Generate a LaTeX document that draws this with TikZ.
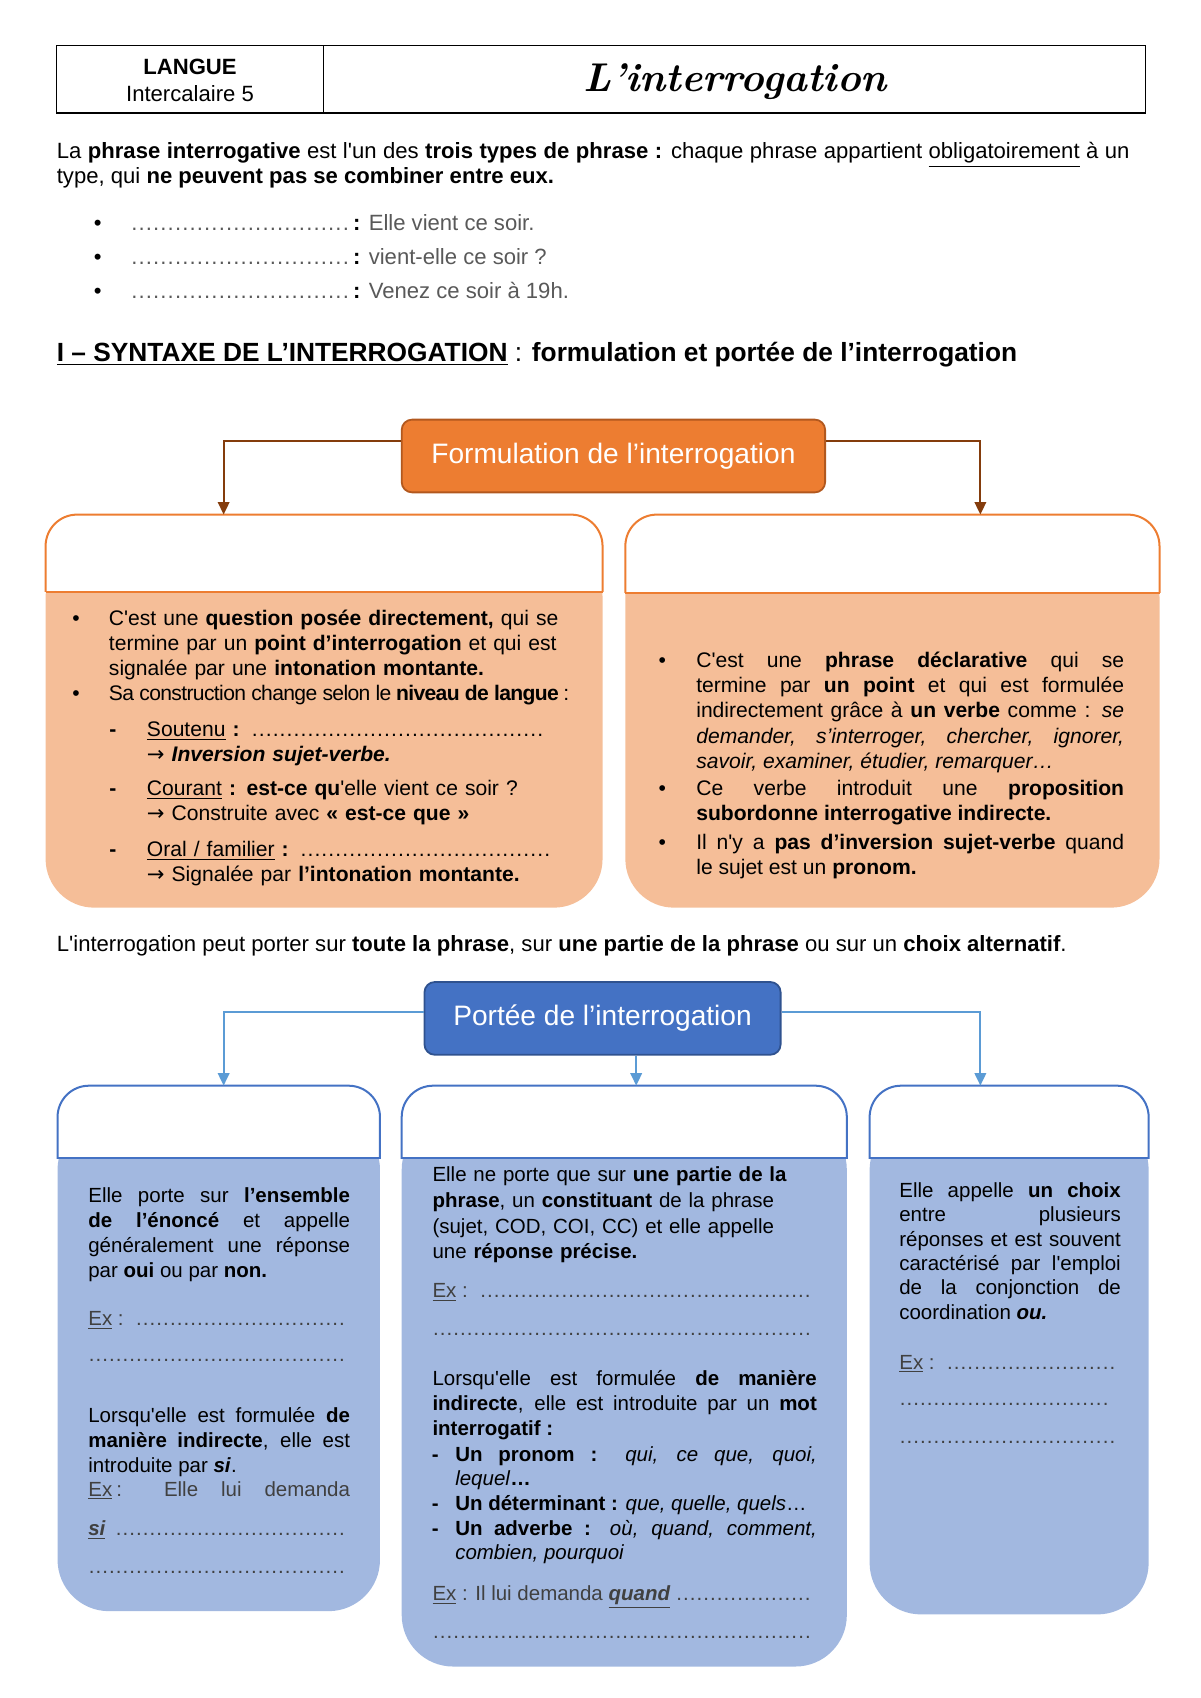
\documentclass[tikz,border=0pt]{standalone}
\usepackage{fontspec}
\setsansfont{Liberation Sans}[Ligatures=TeXOff]
\renewcommand{\familydefault}{\sfdefault}
\newfontfamily\symb{DejaVu Sans}
\usetikzlibrary{arrows.meta,positioning}

\newdimen\pxu
\pxu=0.19mm
\tolerance=9999
\hyphenpenalty=10000

\definecolor{orangevif}{HTML}{ED7D31}
\definecolor{orangebord}{HTML}{B2581E}
\definecolor{brun}{HTML}{843C0C}
\definecolor{peche}{HTML}{F5BE98}
\definecolor{bleuvif}{HTML}{4472C4}
\definecolor{bleubord}{HTML}{2F528F}
\definecolor{bleuciel}{HTML}{5B9BD5}
\definecolor{bleupale}{HTML}{A2B8E0}
\definecolor{gris}{HTML}{595959}
\definecolor{grisfonce}{HTML}{404040}

\newcommand\pointilles[1]{\leaders\hbox to 0.33em{\hss.\hss}\hskip #1\relax\kern0pt}
\newcommand\fleche{{\symb →}}
\newcommand\fsTexte{\fontsize{11}{12.4}\selectfont}
\newcommand\fsCadre{\fontsize{10.5}{12.4}\selectfont}
\newcommand\fsBleu{\fontsize{10.2}{12.4}\selectfont}

\tikzset{
  texte/.style={anchor=base west, inner sep=0pt, align=left},
  justifie/.style={anchor=base west, inner sep=0pt, align=justify},
  puce/.style={anchor=base, inner sep=0pt},
  entete/.style={line width=0.9pt, rounded corners=1.8mm, minimum height=67\pxu,
    text=white, font=\fontsize{14}{16}\selectfont},
  lien/.style={-{Triangle[length=2.2mm,width=2mm]}, line width=1.1pt},
}

\begin{document}
\begin{tikzpicture}[x=0.19mm, y=-0.19mm]
\useasboundingbox (0,0) rectangle (1106,1564);

%% en-tete
\draw[line width=0.7pt] (52,42) rectangle (1055,104);
\draw[line width=0.7pt] (298,42) -- (298,104);
\node[font=\fsTexte\bfseries] (langue) at (175,62) {LANGUE};
\node[font=\fsTexte] (intercalaire) at (175,86) {Intercalaire 5};
\node[font=\rmfamily\bfseries\itshape\fontsize{20}{22}\selectfont] (titre) at (677,75) {L’interrogation};

%% introduction
\node[justifie, text width=988\pxu, font=\fsTexte] (intro) at (52,146) {La \textbf{phrase interrogative} est l'un des \textbf{trois types de phrase :} chaque phrase appartient \underline{obligatoirement} à un\linebreak type, qui \textbf{ne peuvent pas se combiner entre eux.}};
\foreach \ph [count=\i] in {Elle vient ce soir., vient-elle ce soir ?, Venez ce soir à 19h.} {
    \node[texte, font=\fsTexte] (type\i) at (120,{180.5+31.5*\i}) {\color{gris}\pointilles{205\pxu}\textcolor{black}{\textbf{:}} \ph};
    \node[puce, font=\fsTexte] (ptype\i) at (90,{180.5+31.5*\i}) {•};
}
\node[texte, font=\fontsize{13.1}{15}\selectfont\bfseries] (syntaxe) at (52,333) {\underline{I – SYNTAXE DE L’INTERROGATION} {\mdseries :} formulation et portée de l’interrogation};

%% formulation
\node[entete, draw=orangebord, fill=orangevif, minimum width=390\pxu] (formu) at (565,420) {Formulation de l’interrogation};
\foreach \xa/\xb/\yb in {42/555/545, 576/1068/546} {
    \fill[peche, rounded corners=8.5mm] (\xa,505) rectangle (\xb,836);
    \begin{scope}
        \clip (\xa-10,460) rectangle (\xb+10,\yb);
        \draw[orangevif, line width=1pt, fill=white, rounded corners=5.5mm] (\xa,474) rectangle (\xb,\yb+80);
    \end{scope}
    \draw[orangevif, line width=1pt] (\xa,\yb) -- (\xb,\yb);
}
\coordinate (directe) at (206,474);
\coordinate (indirecte) at (903,474);
\draw[lien, brun] ([yshift=2.66mm]formu.west) -| (directe);
\draw[lien, brun] ([yshift=2.66mm]formu.east) -| (indirecte);

%% interrogation directe
\node[texte, text width=460\pxu, font=\fsCadre] (dir1) at (100,576) {C'est une \textbf{question posée directement,} qui se\\termine par un \textbf{point d’interrogation} et qui est\\signalée par une \textbf{intonation montante.}};
\node[texte, font=\fsCadre] (dir2) at (100,645) {\addfontfeature{LetterSpace=-3}Sa construction change selon le \textbf{niveau de langue} :};
\node[puce, font=\fsCadre] (pdir1) at (70,576) {•};
\node[puce, font=\fsCadre] (pdir2) at (70,645) {•};
\node[texte, text width=420\pxu, font=\fsCadre] (soutenu) at (135,678) {\underline{Soutenu} \textbf{:} \pointilles{275\pxu}\\\fleche\ \textbf{\textit{Inversion sujet-verbe.}}};
\node[texte, text width=420\pxu, font=\fsCadre] (courant) at (135,733) {\underline{Courant} \textbf{: est-ce qu}'elle vient ce soir ?\\\fleche\ Construite avec \textbf{« est-ce que »}};
\node[texte, text width=420\pxu, font=\fsCadre] (oral) at (135,789) {\underline{Oral / familier} \textbf{:} \pointilles{232\pxu}\\\fleche\ Signalée par \textbf{l’intonation montante.}};
\foreach \y [count=\i] in {678,733,789}
    \node[puce, font=\fsCadre\bfseries] (tiret\i) at (104,\y) {-};

%% interrogation indirecte
\node[justifie, text width=394\pxu, font=\fontsize{10.5}{12.5}\selectfont] (ind1) at (641,615) {C'est une \textbf{phrase déclarative} qui se\linebreak termine par \textbf{un point} et qui est formulée\linebreak indirectement grâce à \textbf{un verbe} comme : \textit{se\linebreak demander, s’interroger, chercher, ignorer,\linebreak savoir, examiner, étudier, remarquer…}};
\node[justifie, text width=394\pxu, font=\fontsize{10.5}{12.5}\selectfont] (ind2) at (641,733) {Ce verbe introduit une \textbf{proposition}\linebreak\textbf{subordonne interrogative indirecte.}};
\node[justifie, text width=394\pxu, font=\fontsize{10.5}{12.5}\selectfont] (ind3) at (641,782) {Il n'y a \textbf{pas d’inversion sujet-verbe} quand\linebreak le sujet est un \textbf{pronom.}};
\foreach \y [count=\i] in {615,733,782}
    \node[puce, font=\fsCadre] (pind\i) at (610,\y) {•};

\node[texte, font=\fsTexte] (portees) at (52,876) {L'interrogation peut porter sur \textbf{toute la phrase}, sur \textbf{une partie de la phrase} ou sur un \textbf{choix alternatif}.};

%% portee
\node[entete, draw=bleubord, fill=bleuvif, minimum width=328\pxu] (portee) at (555,938) {Portée de l’interrogation};
\foreach \xa/\xb/\yc in {53/350/1484, 370/780/1535, 801/1058/1487} {
    \fill[bleupale, rounded corners=9mm] (\xa,1030) rectangle (\xb,\yc);
    \begin{scope}
        \clip (\xa-10,985) rectangle (\xb+10,1067);
        \draw[bleuvif, line width=1pt, fill=white, rounded corners=5.5mm] (\xa,1000) rectangle (\xb,1140);
    \end{scope}
    \draw[bleuvif, line width=1pt] (\xa,1067) -- (\xb,1067);
}
\coordinate (totale) at (206,1000);
\coordinate (partielle) at (586,1000);
\coordinate (alternative) at (903,1000);
\draw[lien, bleuciel] ([yshift=1.05mm]portee.west) -| (totale);
\draw[lien, bleuciel] ([yshift=1.05mm]portee.east) -| (alternative);
\draw[lien, bleuciel] (portee.south -| partielle) -- (partielle);

%% interrogation totale
\node[justifie, text width=241\pxu, font=\fsBleu] (tot1) at (81,1108) {Elle porte sur \textbf{l’ensemble}\linebreak\textbf{de l’énoncé} et appelle\linebreak généralement une réponse\linebreak par \textbf{oui} ou par \textbf{non.}};
\node[texte, font=\fsBleu, text=grisfonce] (tot2) at (81,1221) {\underline{Ex} : \pointilles{200\pxu}};
\node[texte, font=\fsBleu, text=grisfonce] (tot3) at (81,1254) {\pointilles{242\pxu}};
\node[justifie, text width=241\pxu, font=\fsBleu] (tot4) at (81,1310) {Lorsqu'elle est formulée \textbf{de}\linebreak\textbf{manière indirecte}, elle est\linebreak introduite par \textbf{\textit{si}}.};
\node[texte, font=\fsBleu, text=grisfonce] (tot5) at (81,1378) {\makebox[241\pxu][s]{\underline{Ex}\kern2pt: Elle lui demanda}};
\node[texte, font=\fsBleu, text=grisfonce] (tot6) at (81,1414) {\textbf{\textit{\underline{si}}} \pointilles{218\pxu}};
\node[texte, font=\fsBleu, text=grisfonce] (tot7) at (81,1449) {\pointilles{242\pxu}};

%% interrogation partielle
\node[texte, text width=360\pxu, font=\fontsize{10.2}{12.9}\selectfont] (part1) at (398,1088) {Elle ne porte que sur \textbf{une partie de la}\\\textbf{phrase}, un \textbf{constituant} de la phrase\\(sujet, COD, COI, CC) et elle appelle\\une \textbf{réponse précise.}};
\node[texte, font=\fsBleu, text=grisfonce] (part2) at (398,1195) {\underline{Ex} : \pointilles{310\pxu}};
\node[texte, font=\fsBleu, text=grisfonce] (part3) at (398,1230) {\pointilles{354\pxu}};
\node[justifie, text width=354\pxu, font=\fontsize{10.2}{12.6}\selectfont] (part4) at (398,1276) {Lorsqu'elle est formulée \textbf{de manière}\linebreak\textbf{indirecte}, elle est introduite par un \textbf{mot}\linebreak\textbf{interrogatif :}};
\node[justifie, text width=333\pxu, font=\fontsize{10.2}{12.1}\selectfont] (mot1) at (419,1346) {\textbf{Un pronom :} \textit{qui, ce que, quoi,\linebreak lequel}\textbf{…}};
\node[justifie, text width=333\pxu, font=\fontsize{10.2}{12.1}\selectfont] (mot2) at (419,1391) {\textbf{Un déterminant :} \textit{que, quelle, quels}…};
\node[justifie, text width=333\pxu, font=\fontsize{10.2}{12.1}\selectfont] (mot3) at (419,1414) {\textbf{Un adverbe :} \textit{où, quand, comment,\linebreak combien, pourquoi}};
\foreach \y [count=\i] in {1346,1391,1414}
    \node[puce, font=\fsBleu\bfseries] (tmot\i) at (401,\y) {-};
\node[texte, font=\fsBleu, text=grisfonce] (part5) at (398,1474) {\underline{Ex} : Il lui demanda \textbf{\textit{\underline{quand}}} \pointilles{130\pxu}};
\node[texte, font=\fsBleu, text=grisfonce] (part6) at (398,1509) {\pointilles{354\pxu}};

%% interrogation alternative
\node[justifie, text width=204\pxu, font=\fontsize{10.2}{12.1}\selectfont] (alt1) at (828,1103) {Elle appelle \textbf{un choix}\linebreak entre plusieurs\linebreak réponses et est souvent\linebreak caractérisé par l'emploi\linebreak de la conjonction de\linebreak coordination \textbf{\textit{ou.}}};
\node[texte, font=\fsBleu, text=grisfonce] (alt2) at (828,1261) {\underline{Ex} : \pointilles{160\pxu}};
\node[texte, font=\fsBleu, text=grisfonce] (alt3) at (828,1295) {\pointilles{196\pxu}};
\node[texte, font=\fsBleu, text=grisfonce] (alt4) at (828,1330) {\pointilles{201\pxu}};
\end{tikzpicture}
\end{document}
